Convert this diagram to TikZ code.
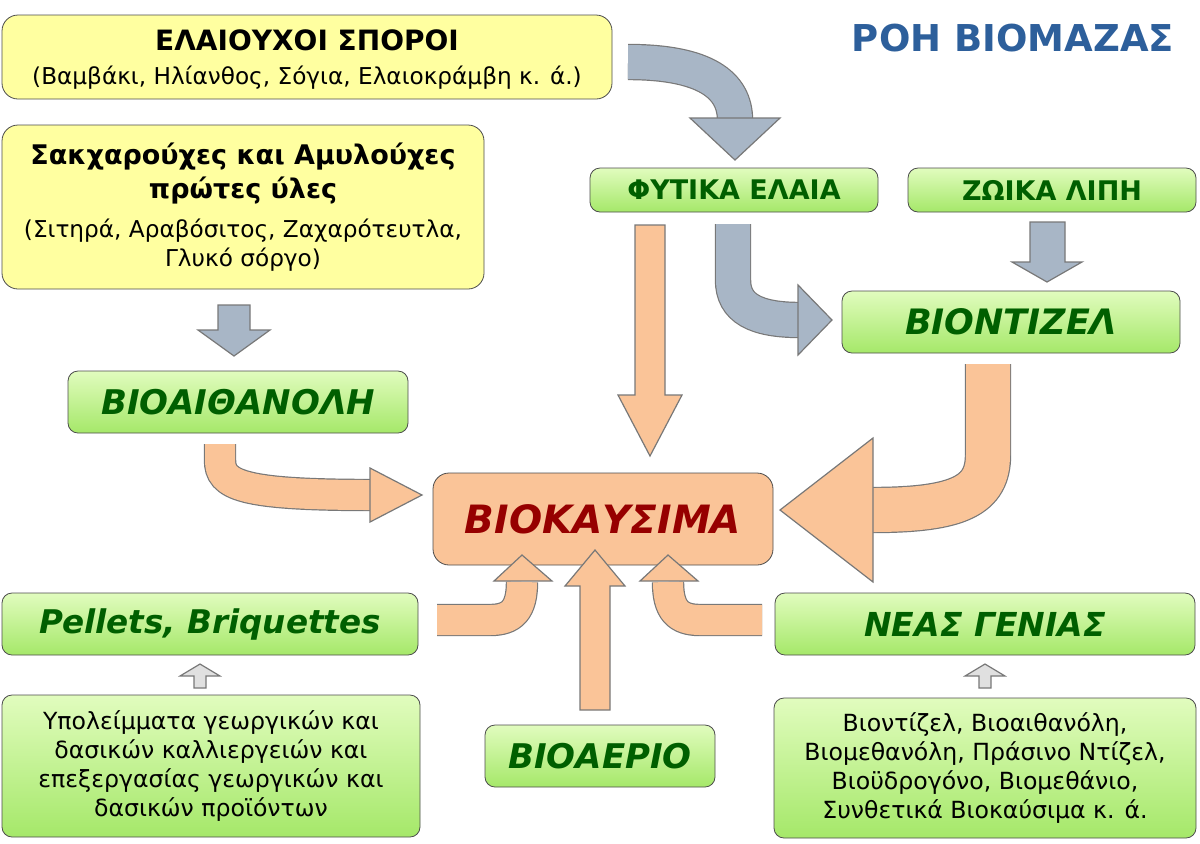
\documentclass[tikz,border=0pt]{standalone}
\usepackage{fontspec}
\setmainfont{DejaVu Sans}
\usetikzlibrary{positioning}
\definecolor{yelf}{RGB}{255,255,160}
\definecolor{grtop}{RGB}{225,252,190}
\definecolor{grbot}{RGB}{165,232,105}
\definecolor{grtxt}{RGB}{0,95,0}
\definecolor{orf}{RGB}{250,196,152}
\definecolor{grayf}{RGB}{168,182,198}
\definecolor{edge}{RGB}{120,120,120}
\definecolor{redtxt}{RGB}{150,0,0}
\definecolor{bluetxt}{RGB}{45,95,155}

\begin{document}
\begin{tikzpicture}[x=0.5pt, y=-0.5pt,
    yelbox/.style={rectangle, rounded corners=8pt, draw=black!70, fill=yelf, align=center},
    grbox/.style={rectangle, rounded corners=5pt, draw=black!70, top color=grtop, bottom color=grbot,
        align=center, text=grtxt, font=\bfseries\itshape},
    shaft/.style={line width=#1, preaction={draw=edge, line width=#1+1.2pt}},
    orshaft/.style={shaft=#1, draw=orf},
    grshaft/.style={shaft=#1, draw=grayf},
    head/.style={draw=edge, line width=0.6pt, line join=miter}
]
    \useasboundingbox (0,0) rectangle (1200,843);

    % boxes
    \node[yelbox, minimum width=305pt, minimum height=42pt] (seeds) at (307,57) {};
    \node[font=\bfseries\fontsize{14}{16}\selectfont] at (307,40) {ΕΛΑΙΟΥΧΟΙ ΣΠΟΡΟΙ};
    \node[font=\fontsize{11.6}{13}\selectfont] at (307,78) {(Βαμβάκι, Ηλίανθος, Σόγια, Ελαιοκράμβη κ. ά.)};

    \node[yelbox, minimum width=241pt, minimum height=82pt] (sugar) at (243,207) {};
    \node[font=\bfseries\fontsize{13.5}{17}\selectfont, align=center] at (243,173) {Σακχαρούχες και Αμυλούχες\\πρώτες ύλες};
    \node[font=\fontsize{11.6}{14.5}\selectfont, align=center] at (243,245) {(Σιτηρά, Αραβόσιτος, Ζαχαρότευτλα,\\Γλυκό σόργο)};

    \node[grbox, minimum width=144pt, minimum height=22pt, font=\bfseries\fontsize{13.5}{15}\selectfont] (plant) at (734,190) {ΦΥΤΙΚΑ ΕΛΑΙΑ};
    \node[grbox, minimum width=144pt, minimum height=22pt, font=\bfseries\fontsize{13.5}{15}\selectfont] (animal) at (1052,190) {ΖΩΙΚΑ ΛΙΠΗ};
    \node[grbox, minimum width=169pt, minimum height=31pt, font=\bfseries\itshape\fontsize{17.5}{20}\selectfont] (diesel) at (1011,322) {ΒΙΟΝΤΙΖΕΛ};
    \node[grbox, minimum width=170pt, minimum height=31pt, font=\bfseries\itshape\fontsize{17}{20}\selectfont] (ethanol) at (238,402) {ΒΙΟΑΙΘΑΝΟΛΗ};
    \node[rectangle, rounded corners=8pt, draw=black!70, fill=orf, minimum width=170pt, minimum height=46pt,
        text=redtxt, font=\bfseries\itshape\fontsize{19.5}{23}\selectfont] (fuels) at (603,519) {ΒΙΟΚΑΥΣΙΜΑ};
    \node[grbox, minimum width=208pt, minimum height=31pt, font=\bfseries\itshape\fontsize{16.3}{19}\selectfont] (pellets) at (210,624) {Pellets, Briquettes};
    \node[grbox, minimum width=210pt, minimum height=31pt, font=\bfseries\itshape\fontsize{16.5}{19}\selectfont] (newgen) at (985,624) {ΝΕΑΣ ΓΕΝΙΑΣ};
    \node[grbox, minimum width=209pt, minimum height=71pt, font=\fontsize{11.8}{14.5}\selectfont, text=black] (residues) at (211,766)
        {Υπολείμματα γεωργικών και\\δασικών καλλιεργειών και\\επεξεργασίας γεωργικών και\\δασικών προϊόντων};
    \node[grbox, minimum width=115pt, minimum height=31pt, font=\bfseries\itshape\fontsize{17}{20}\selectfont] (biogas) at (600,756) {ΒΙΟΑΕΡΙΟ};
    \node[grbox, minimum width=211pt, minimum height=70pt, font=\fontsize{11.8}{14.5}\selectfont, text=black] (list) at (985,768)
        {Βιοντίζελ, Βιοαιθανόλη,\\Βιομεθανόλη, Πράσινο Ντίζελ,\\Βιοϋδρογόνο, Βιομεθάνιο,\\Συνθετικά Βιοκαύσιμα κ. ά.};
    \node[text=bluetxt, font=\bfseries\fontsize{18.5}{22}\selectfont] (title) at (1013,38) {ΡΟΗ ΒΙΟΜΑΖΑΣ};

    % gray arrows
    \draw[grshaft=17pt] (628,62) .. controls (705,62) and (735,85) .. (735,120);
    \filldraw[head, fill=grayf] (690,118) -- (780,118) -- (735,160) -- cycle;
    \filldraw[head, fill=grayf] (218,305) -- (250,305) -- (250,330) -- (270,330) -- (234,356) -- (198,330) -- (218,330) -- cycle;
    \filldraw[head, fill=grayf] (1030,222) -- (1065,222) -- (1065,262) -- (1082,262) -- (1047,282) -- (1012,262) -- (1030,262) -- cycle;
    \draw[grshaft=17pt] (733,224) -- (733,280) .. controls (733,308) and (755,320) .. (800,320);
    \filldraw[head, fill=grayf] (798,285) -- (832,320) -- (798,355) -- cycle;

    % orange arrows
    \filldraw[head, fill=orf] (635,225) -- (665,225) -- (665,395) -- (682,395) -- (650,456) -- (618,395) -- (635,395) -- cycle;
    \draw[orshaft=22pt] (988,364) -- (988,455) .. controls (988,495) and (960,510) .. (872,510);
    \filldraw[head, fill=orf] (873,438) -- (780,510) -- (873,582) -- cycle;
    \draw[orshaft=15pt] (220,444) -- (220,460) .. controls (220,485) and (240,495) .. (372,495);
    \filldraw[head, fill=orf] (370,468) -- (422,495) -- (370,522) -- cycle;
    \draw[orshaft=15pt] (437,620) -- (490,620) .. controls (512,620) and (522,610) .. (522,582);
    \filldraw[head, fill=orf] (494,581) -- (522,555) -- (552,581) -- cycle;
    \draw[orshaft=15pt] (762,620) -- (700,620) .. controls (678,620) and (668,610) .. (668,582);
    \filldraw[head, fill=orf] (640,581) -- (668,555) -- (698,581) -- cycle;
    \filldraw[head, fill=orf] (580,710) -- (610,710) -- (610,586) -- (625,586) -- (595,550) -- (565,586) -- (580,586) -- cycle;

    % small arrows
    \filldraw[head, fill=black!12] (194,688) -- (206,688) -- (206,676) -- (220,676) -- (200,664) -- (180,676) -- (194,676) -- cycle;
    \filldraw[head, fill=black!12] (979,688) -- (991,688) -- (991,676) -- (1005,676) -- (985,664) -- (965,676) -- (979,676) -- cycle;
\end{tikzpicture}
\end{document}
